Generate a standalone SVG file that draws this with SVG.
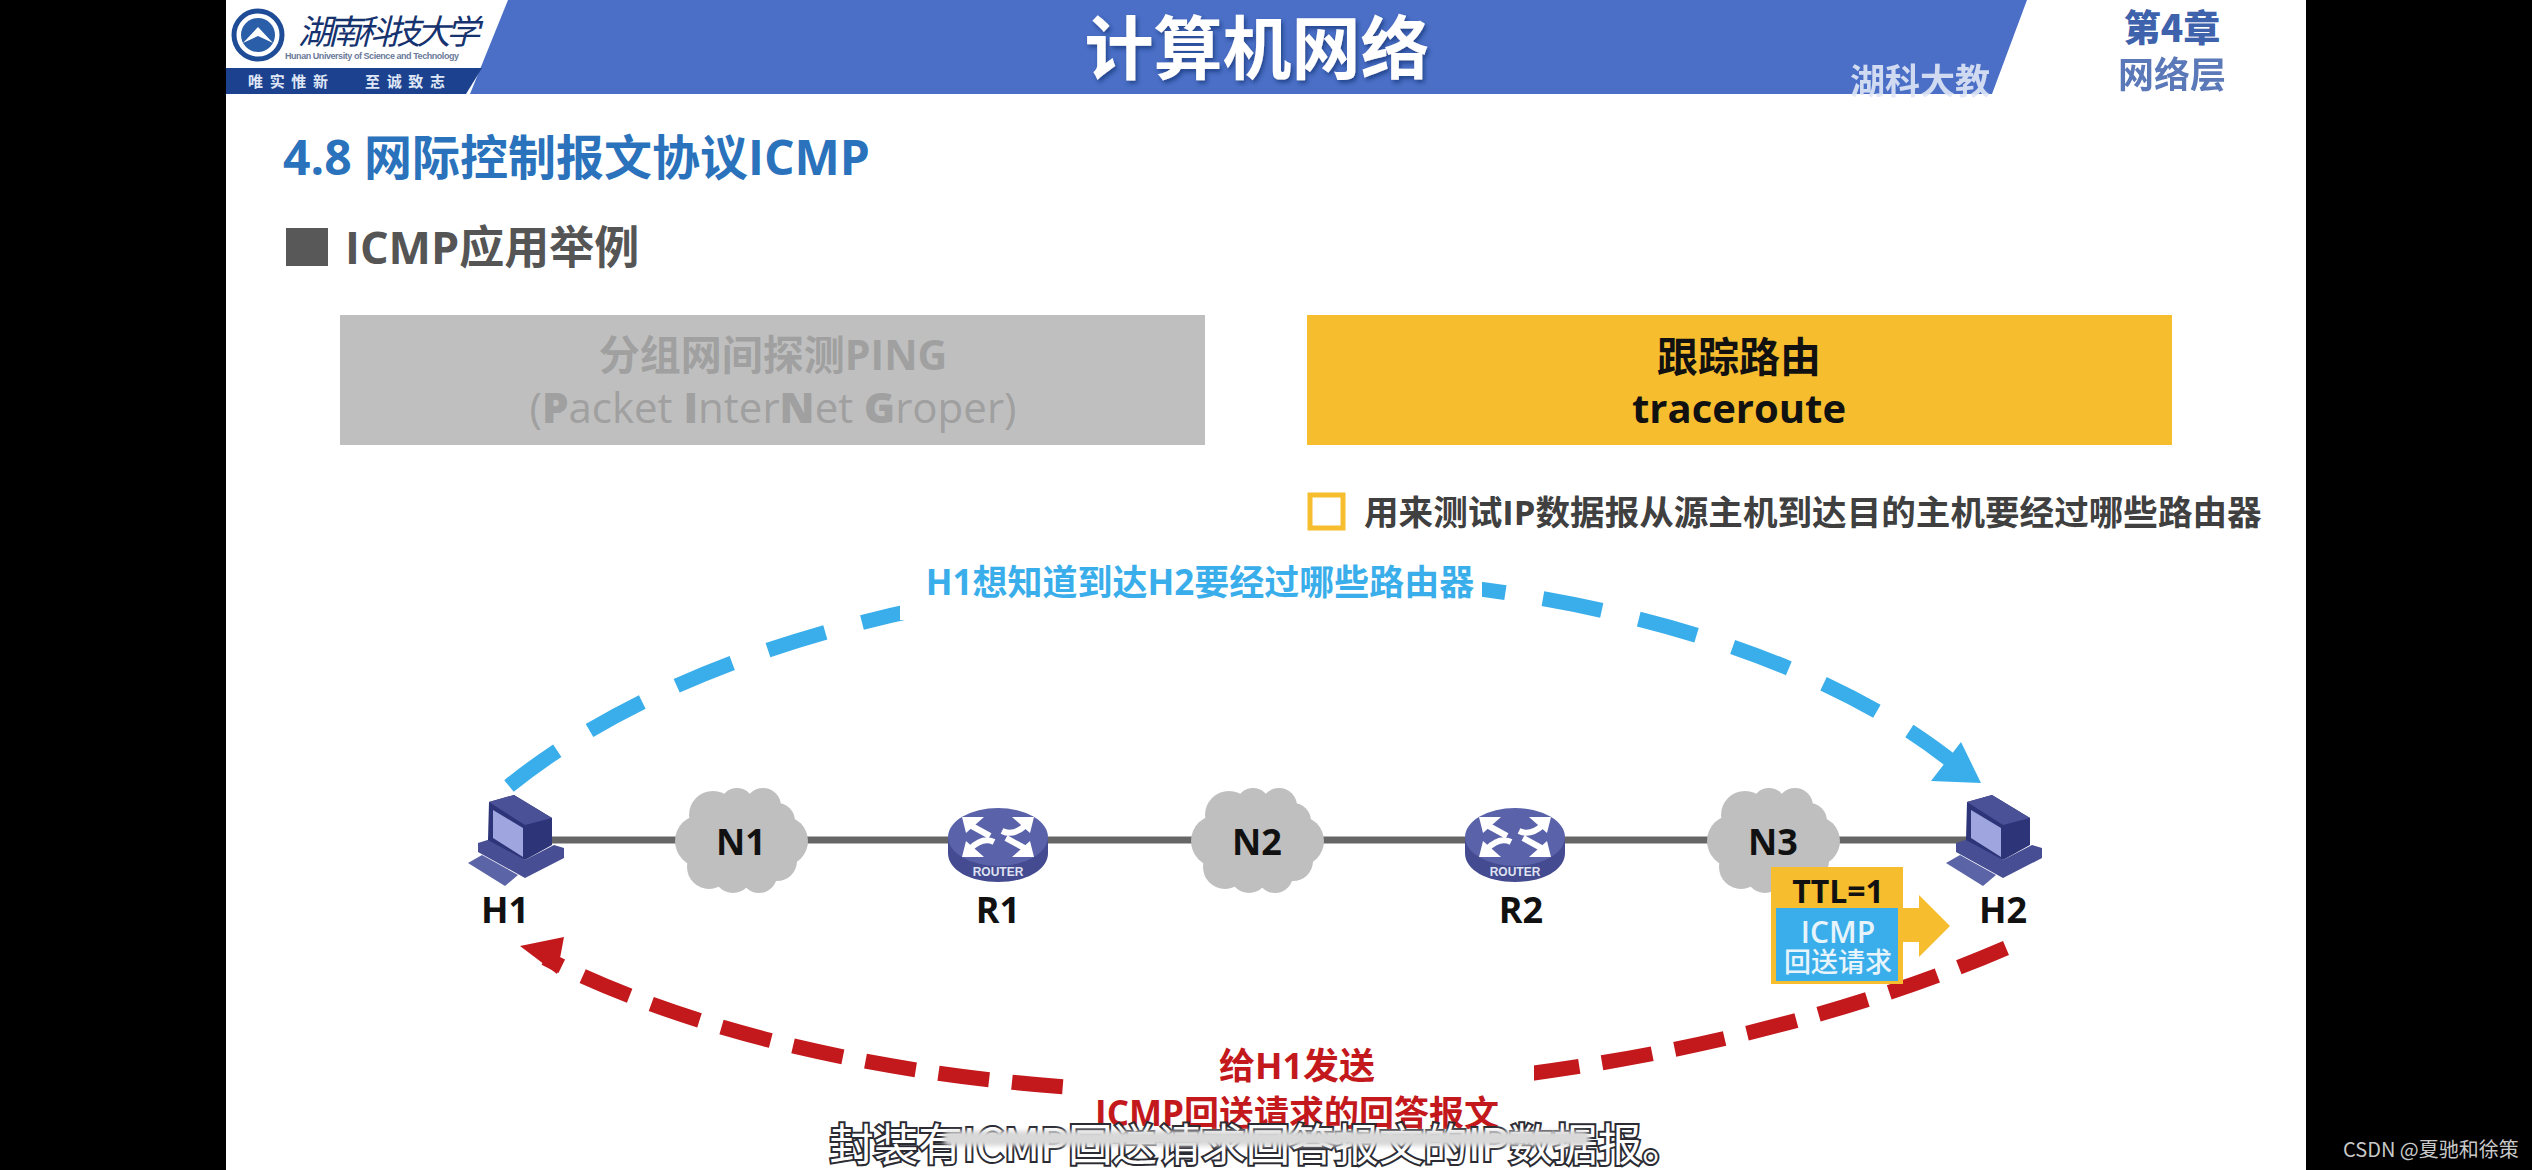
<svg xmlns="http://www.w3.org/2000/svg" width="2532" height="1170" viewBox="0 0 2532 1170">
<style>
text{font-family:"Noto Sans CJK SC","Noto Sans",sans-serif;font-weight:700}
.c{text-anchor:middle}
.lat{font-family:"Open Sans","Noto Sans CJK SC",sans-serif;font-weight:700}
.lab{font-family:"Open Sans","Noto Sans CJK SC",sans-serif;font-size:36px;fill:#111;text-anchor:middle}
.blue{fill:none;stroke:#3aaeea;stroke-width:15;stroke-dasharray:60 38}
.red{fill:none;stroke:#c3191d;stroke-width:15;stroke-dasharray:51 23}
.link{stroke:#666;stroke-width:7;fill:none}
</style>
<defs>
<filter id="soft" x="-10%" y="-60%" width="120%" height="220%"><feGaussianBlur stdDeviation="2"/></filter>
<filter id="blur" x="-20%" y="-40%" width="140%" height="180%"><feGaussianBlur stdDeviation="3"/></filter>
<filter id="sh" x="-10%" y="-10%" width="120%" height="130%"><feDropShadow dx="2" dy="3" stdDeviation="2" flood-color="#1f3a80" flood-opacity=".8"/></filter>
<g id="cloud" fill="#bfbfbf">
<circle cx="0" cy="0" r="46"/><circle cx="-40" cy="0" r="26"/><circle cx="42" cy="0" r="25"/>
<circle cx="-28" cy="-26" r="24"/><circle cx="-4" cy="-36" r="17"/><circle cx="22" cy="-35" r="18"/><circle cx="36" cy="-20" r="18"/>
<circle cx="-32" cy="26" r="22"/><circle cx="-8" cy="33" r="19"/><circle cx="18" cy="34" r="18"/><circle cx="36" cy="20" r="20"/>
</g>
<g id="router">
<path d="M-50-8V8C-50 25-28 37 0 37S50 25 50 8V-8Z" fill="#444b90"/>
<ellipse cx="0" cy="-8" rx="50" ry="29" fill="#5a62aa"/>
<g fill="none" stroke="#fff" stroke-width="6">
<path d="M-28-20L-8-9M28-20C18-11 10-11 4-14M-28 4C-18-6-10-6-4-3M28 4L8-7"/>
</g>
<g fill="#fff">
<path d="M-36-28L-14-28L-32-12Z"/><path d="M36-28L14-28L32-12Z"/><path d="M-36 12L-14 12L-32-4Z"/><path d="M36 12L14 12L32-4Z"/>
</g>
<text x="0" y="31" class="c" font-size="12" fill="#dfe2f2" style="font-family:'Liberation Sans',sans-serif">ROUTER</text>
</g>
<g id="pc">
<path d="M468 863L482 855L518 875L505 886Z" fill="#5c64a8"/>
<path d="M478 843L494 838L525 860L554 845L564 848V858L525 878L478 852Z" fill="#474e93"/>
<path d="M489 802L514 795L552 818V845L525 860L488 840Z" fill="#2e3478"/>
<path d="M489 802L514 795L552 818L525 825Z" fill="#4a5196"/>
<path d="M493 810L523 828V857L493 838Z" fill="#9fa5de"/>
</g>
</defs>

<rect width="2532" height="1170" fill="#000"/>
<rect x="226" y="0" width="2080" height="1170" fill="#fff"/>

<g id="header">
<path d="M470 94L508 0H2027L1992 94Z" fill="#4b6fc6"/>
<path d="M226 68H482L466 94H226Z" fill="#1b418f"/>
<circle cx="258" cy="35" r="24" fill="#fff" stroke="#1f4c96" stroke-width="5"/>
<circle cx="258" cy="35" r="17" fill="#2a5ea8"/>
<path d="M243 43L258 27L273 43L258 36Z" fill="#fff"/>
<text x="298" y="44" font-size="34" font-style="italic" fill="#16336f" textLength="182" style="font-weight:400;font-family:'Noto Sans CJK JP',sans-serif">湖南科技大学</text>
<text x="285" y="59" font-size="9" fill="#6a7a9a" textLength="174" style="font-family:'Liberation Sans',sans-serif">Hunan University of Science and Technology</text>
<text x="248" y="87" font-size="15" fill="#dfe6f5" textLength="80">唯实惟新</text>
<text x="365" y="87" font-size="15" fill="#dfe6f5" textLength="80">至诚致志</text>
<text x="1257" y="74" class="c" font-size="69" fill="#fff" filter="url(#sh)">计算机网络</text>
<text x="1850" y="94" font-size="35" fill="#dfe6f6" opacity=".9">湖科大教</text>
<text x="2172" y="42" class="c" font-size="37" fill="#3f62ac" style="font-weight:900">第4章</text>
<text x="2172" y="88" class="c" font-size="36" fill="#3f62ac" opacity=".85">网络层</text>
</g>

<g id="heading">
<text x="283" y="175" font-size="48" fill="#2a72bb" class="lat">4.8 网际控制报文协议ICMP</text>
<rect x="286" y="228" width="42" height="38" fill="#585858"/>
<text x="345" y="264" font-size="45" fill="#555" class="lat">ICMP应用举例</text>
</g>

<g id="ping">
<rect x="340" y="315" width="865" height="130" fill="#bfbfbf"/>
<text x="773" y="370" class="c lat" font-size="41" fill="#a0a0a0">分组网间探测PING</text>
<text x="773" y="423" class="c" font-size="42" fill="#a0a0a0" style="font-family:'Open Sans',sans-serif;font-weight:500">(<tspan font-weight="800">P</tspan>acket <tspan font-weight="800">I</tspan>nter<tspan font-weight="800">N</tspan>et <tspan font-weight="800">G</tspan>roper)</text>
</g>

<g id="traceroute">
<rect x="1307" y="315" width="865" height="130" fill="#f6bd2f"/>
<text x="1739" y="372" class="c lat" font-size="41" fill="#111">跟踪路由</text>
<text x="1739" y="423" class="c lat" font-size="40" fill="#111">traceroute</text>
</g>

<g id="desc">
<rect x="1310" y="495" width="33" height="33" fill="none" stroke="#f6bd2f" stroke-width="5"/>
<text x="1364" y="525" font-size="34.6" fill="#404040" class="lat">用来测试IP数据报从源主机到达目的主机要经过哪些路由器</text>
</g>

<g id="connectors">
<path class="link" d="M540 840H1975"/>
<path class="blue" d="M509 786C850 510 1640 505 1960 768"/>
<path d="M1981 783L1931 781L1961 742Z" fill="#3aaeea"/>
<path class="red" d="M2006 948C1560 1140 900 1140 545 958"/>
<path d="M520 946L564 937L557 974Z" fill="#c3191d"/>
</g>

<rect x="900" y="540" width="582" height="80" fill="#fff"/>
<rect x="1069" y="1030" width="465" height="140" fill="#fff"/>

<g id="label-top"><text x="1200" y="595" class="c lat" font-size="35" fill="#3aaeea">H1想知道到达H2要经过哪些路由器</text></g>

<g id="H1"><use href="#pc"/><text x="505" y="923" class="lab">H1</text></g>
<g id="N1"><use href="#cloud" x="741" y="841"/><text x="741" y="855" class="lab">N1</text></g>
<g id="R1"><use href="#router" x="998" y="845"/><text x="998" y="923" class="lab">R1</text></g>
<g id="N2"><use href="#cloud" x="1257" y="841"/><text x="1257" y="855" class="lab">N2</text></g>
<g id="R2"><use href="#router" x="1515" y="845"/><text x="1521" y="923" class="lab">R2</text></g>
<g id="N3"><use href="#cloud" x="1773" y="841"/><text x="1773" y="855" class="lab">N3</text></g>
<g id="H2"><use href="#pc" x="1478"/><text x="2003" y="923" class="lab">H2</text></g>

<g id="packet">
<path d="M1899 908H1919V895L1950 926L1919 957V942H1899Z" fill="#f6bd2f"/>
<rect x="1771" y="867" width="132" height="117" fill="#f6bd2f"/>
<rect x="1776" y="908" width="122" height="73" fill="#3aaeea"/>
<text x="1838" y="903" class="c lat" font-size="32" fill="#111">TTL=1</text>
<text x="1838" y="943" class="c lat" font-size="30" fill="#e8f4fc" style="font-weight:600">ICMP</text>
<text x="1838" y="972" class="c" font-size="27" fill="#e8f4fc" style="font-weight:500">回送请求</text>
</g>

<g id="label-bottom">
<text x="1297" y="1079" class="c lat" font-size="36" fill="#c3191d">给H1发送</text>
<text x="1297" y="1126" class="c lat" font-size="35" fill="#c3191d">ICMP回送请求的回答报文</text>
</g>

<g id="subtitle">
<text x="1258" y="1161" class="c" font-size="44.4" fill="#fff" stroke="#2b2b33" stroke-width="4" paint-order="stroke" style="font-weight:400">封装有ICMP回送请求回答报文的IP数据报。</text>
<rect x="943" y="1131" width="647" height="15" rx="7" fill="#d8d8d8" filter="url(#soft)"/>
</g>

<text x="2343" y="1157" font-size="20" fill="#c8c8c8" style="font-weight:400">CSDN @夏驰和徐策</text>
</svg>
